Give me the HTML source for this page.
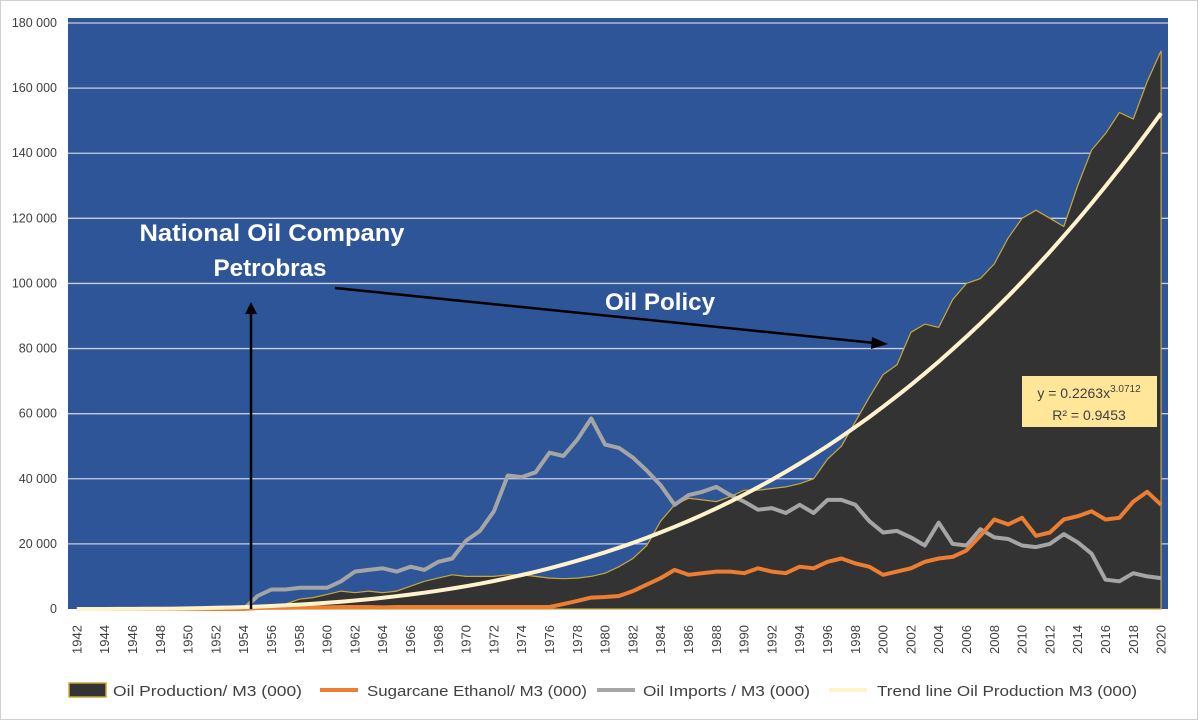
<!DOCTYPE html>
<html><head><meta charset="utf-8"><style>
body{margin:0;background:#fff;width:1200px;height:723px;overflow:hidden;font-family:"Liberation Sans",sans-serif}
</style></head><body>
<svg id="chart" width="1200" height="723" xmlns="http://www.w3.org/2000/svg">
<rect x="0.5" y="0.5" width="1197" height="719" fill="#fff" stroke="#d0d0d0"/>
<g id="g"></g>
</svg>
<script>
const years=[];for(let y=1942;y<=2020;y++)years.push(y);
const oilProduction=[0,0,0,0,0,0,0,0,0,0,0,200,500,800,1000,1500,3000,3500,4500,5500,5000,5500,5000,5500,7000,8500,9500,10500,10000,10000,10000,10500,10500,10000,9500,9300,9500,10000,11000,13000,15500,19500,27000,32000,34000,33500,33000,34500,36500,36500,37000,37500,38500,40000,46000,50000,57500,65000,72000,75000,85000,87500,86500,95000,100000,101500,106000,114000,120000,122500,120000,117500,130000,141000,146000,152500,150500,162000,171500];
const ethanol=[0,0,0,0,0,0,0,0,0,0,0,0,0,300,400,400,500,500,500,600,600,600,500,600,600,600,600,600,600,600,600,600,600,600,600,1500,2500,3500,3700,4000,5500,7500,9500,12000,10500,11000,11500,11500,11000,12500,11500,11000,13000,12500,14500,15500,14000,13000,10500,11500,12500,14500,15500,16000,18000,22500,27500,26000,28000,22500,23500,27500,28500,30000,27500,28000,33000,36000,32000];
const imports=[0,0,0,0,0,0,0,0,0,0,0,0,0,4000,6000,6000,6500,6500,6500,8500,11500,12000,12500,11500,13000,12000,14500,15500,21000,24000,30000,41000,40500,42000,48000,47000,52000,58500,50500,49500,46500,42500,38000,32000,35000,36000,37500,35000,33000,30500,31000,29500,32000,29500,33500,33500,32000,27000,23500,24000,22000,19500,26500,20000,19500,24500,22000,21500,19500,19000,20000,23000,20500,17000,9000,8500,11000,10000,9500];
const trendCoef=[0.2263,3.0712];
const yTicks=[0,20000,40000,60000,80000,100000,120000,140000,160000,180000];
const yTickLabels=["0","20 000","40 000","60 000","80 000","100 000","120 000","140 000","160 000","180 000"];

const NS="http://www.w3.org/2000/svg",g=document.getElementById('g');
const L=70,R=1168,T=23,B=609,step=(R-L)/years.length;
const X=i=>L+step*(i+0.5), Y=v=>B-v/180000*(B-T);
function mk(t,a){const e=document.createElementNS(NS,t);for(const k in a)e.setAttribute(k,a[k]);g.appendChild(e);return e;}
let e=mk('rect',{x:L-2,y:18,width:R-L+2,height:B-18,fill:'#2E5597'});


yTicks.forEach((v,i)=>{
 if(v>0){let l=mk('line',{x1:L-2,x2:R,y1:Y(v),y2:Y(v),stroke:'#c8cfe0','stroke-width':1.3});
 
 }
 let t=mk('text',{x:57,y:Y(v)+4,'text-anchor':'end','font-size':12.5,fill:'#404040'});t.textContent=yTickLabels[i];
 
 
});
const pts=a=>a.map((v,i)=>X(i).toFixed(1)+','+Y(v).toFixed(1)).join(' ');
e=mk('polygon',{points:X(0)+','+B+' '+pts(oilProduction)+' '+X(years.length-1)+','+B,fill:'#333333',stroke:'#C9A83A','stroke-width':1.2});


e=mk('polyline',{points:pts(imports),fill:'none',stroke:'#A5A5A5','stroke-width':4,'stroke-linejoin':'round'});


e=mk('polyline',{points:pts(ethanol),fill:'none',stroke:'#ED7D31','stroke-width':4,'stroke-linejoin':'round'});


const trend=years.map((y,i)=>trendCoef[0]*Math.pow(i+1,trendCoef[1]));
e=mk('polyline',{points:pts(trend),fill:'none',stroke:'#FFF2CC','stroke-width':4});


years.forEach((y,i)=>{if(i%2)return;
 let t=mk('text',{transform:`translate(${X(i)+4.5},654) rotate(-90)`,'font-size':13,fill:'#404040'});t.textContent=y;
 
 });
// annotations
e=mk('line',{x1:251,y1:609,x2:251,y2:312,stroke:'#000','stroke-width':2.5});


e=mk('polygon',{points:'245,314 257,314 251,302',fill:'#000'});


e=mk('line',{x1:335,y1:288,x2:875,y2:343,stroke:'#000','stroke-width':2.5});


e=mk('polygon',{points:'888,344 872,337 871,349',fill:'#000'});


[['National Oil Company',272,241,'title-national-oil',265],['Petrobras',270,276,'title-petrobras',113],['Oil Policy',660,310,'oil-policy-label',110]].forEach(a=>{
 let t=mk('text',{x:a[1],y:a[2],'text-anchor':'middle','font-size':24,'font-weight':'bold',fill:'#fff',textLength:a[4],lengthAdjust:'spacingAndGlyphs'});t.textContent=a[0];
 
 });
e=mk('rect',{x:1022,y:376,width:135,height:51,fill:'#FFE699'});


let t=mk('text',{x:1089,y:398,'text-anchor':'middle','font-size':14,fill:'#404040'});
t.innerHTML='y = 0.2263x<tspan dy="-6" font-size="10">3.0712</tspan>';


t=mk('text',{x:1089,y:420,'text-anchor':'middle','font-size':14,fill:'#404040'});
t.innerHTML='R² = 0.9453';


// legend
const leg=[['Oil Production/ M3 (000)',113,189,'box',69],['Sugarcane Ethanol/ M3 (000)',367,220,'#ED7D31',320],['Oil Imports / M3 (000)',643,167,'#A5A5A5',597],['Trend line Oil Production M3 (000)',877,260,'#FFF2CC',829]];
leg.forEach(l=>{
 let m;
 if(l[3]==='box')m=mk('rect',{x:l[4],y:683,width:37,height:14,fill:'#333',stroke:'#C9A83A','stroke-width':1.5});
 else m=mk('line',{x1:l[4],x2:l[4]+38,y1:690,y2:690,stroke:l[3],'stroke-width':4});
 
 
 let tx=mk('text',{x:l[1],y:696,'font-size':15,fill:'#404040',textLength:l[2],lengthAdjust:'spacingAndGlyphs'});tx.textContent=l[0];
 
 
});
</script>
</body></html>
